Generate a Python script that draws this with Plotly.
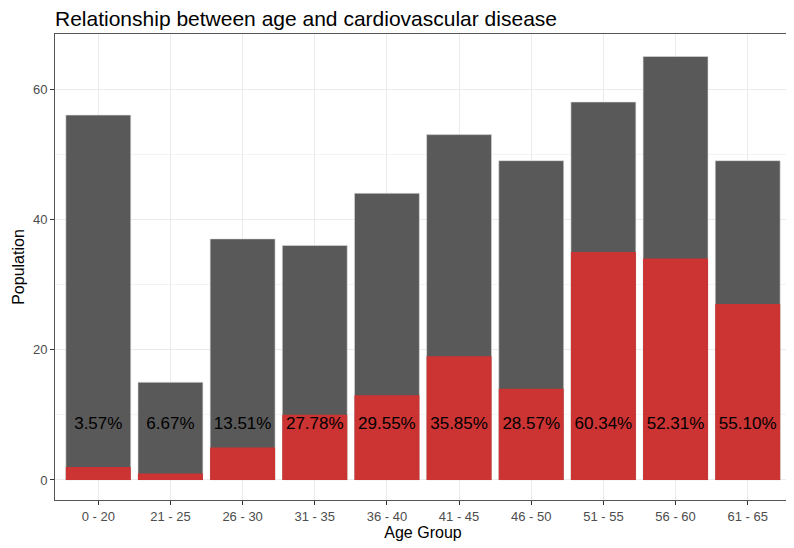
import plotly.graph_objects as go

age_groups = ["0 - 20", "21 - 25", "26 - 30", "31 - 35", "36 - 40",
              "41 - 45", "46 - 50", "51 - 55", "56 - 60", "61 - 65"]
total = [56, 15, 37, 36, 44, 53, 49, 58, 65, 49]
diseased = [2, 1, 5, 10, 13, 19, 14, 35, 34, 27]
pct_labels = ["3.57%", "6.67%", "13.51%", "27.78%", "29.55%",
              "35.85%", "28.57%", "60.34%", "52.31%", "55.10%"]
label_y = [8.5] * len(age_groups)

# page body has an 8px margin, so the figure is shrunk to fit the window
W, H = 786, 540
ml, mr, mt, mb = 47, 3, 26, 48

fig = go.Figure()
fig.add_trace(go.Bar(x=age_groups, y=total, marker=dict(color="#595959", line=dict(color="#e0e0e0", width=0.6)),
                     width=0.9, showlegend=False, hoverinfo="skip"))
fig.add_trace(go.Bar(x=age_groups, y=diseased, marker=dict(color="#CC3333", line=dict(width=0)),
                     width=0.9, showlegend=False, hoverinfo="skip"))
fig.add_trace(go.Scatter(x=age_groups, y=label_y, mode="text", text=pct_labels,
                         textfont=dict(size=17, color="black", family="Liberation Sans"),
                         showlegend=False, hoverinfo="skip"))

fig.update_layout(
    width=W, height=H,
    margin=dict(l=ml, r=mr, t=mt, b=mb, autoexpand=False),
    barmode="overlay",
    bargap=0.1,
    plot_bgcolor="white", paper_bgcolor="white",
    font=dict(family="Liberation Sans", color="black"),
    title=dict(text="Relationship between age and cardiovascular disease",
               x=ml / W, xanchor="left", y=1 - 11 / H, yanchor="middle",
               font=dict(size=21, color="black")),
    xaxis=dict(
        type="category", range=[-0.6, 9.6], automargin=False,
        title=dict(text="Age Group", font=dict(size=16, color="black"), standoff=2),
        tickfont=dict(size=13, color="#4D4D4D"),
        ticks="outside", ticklen=4, tickcolor="#333333",
        showgrid=True, gridcolor="#EBEBEB", gridwidth=1.1,
        showline=True, linecolor="#555555", linewidth=1, mirror=True,
        zeroline=False,
    ),
    yaxis=dict(
        range=[-3.07, 68.44], automargin=False,
        tickvals=[0, 20, 40, 60],
        title=dict(text="Population", font=dict(size=16, color="black"), standoff=4),
        tickfont=dict(size=13, color="#4D4D4D"),
        ticks="outside", ticklen=4, tickcolor="#333333",
        showgrid=True, gridcolor="#EBEBEB", gridwidth=1.1,
        minor=dict(tickvals=[10, 30, 50], showgrid=True, gridcolor="#F3F3F3", gridwidth=0.6, ticks=""),
        showline=True, linecolor="#555555", linewidth=1, mirror=True,
        zeroline=False,
    ),
)

fig.write_html("out.html")
